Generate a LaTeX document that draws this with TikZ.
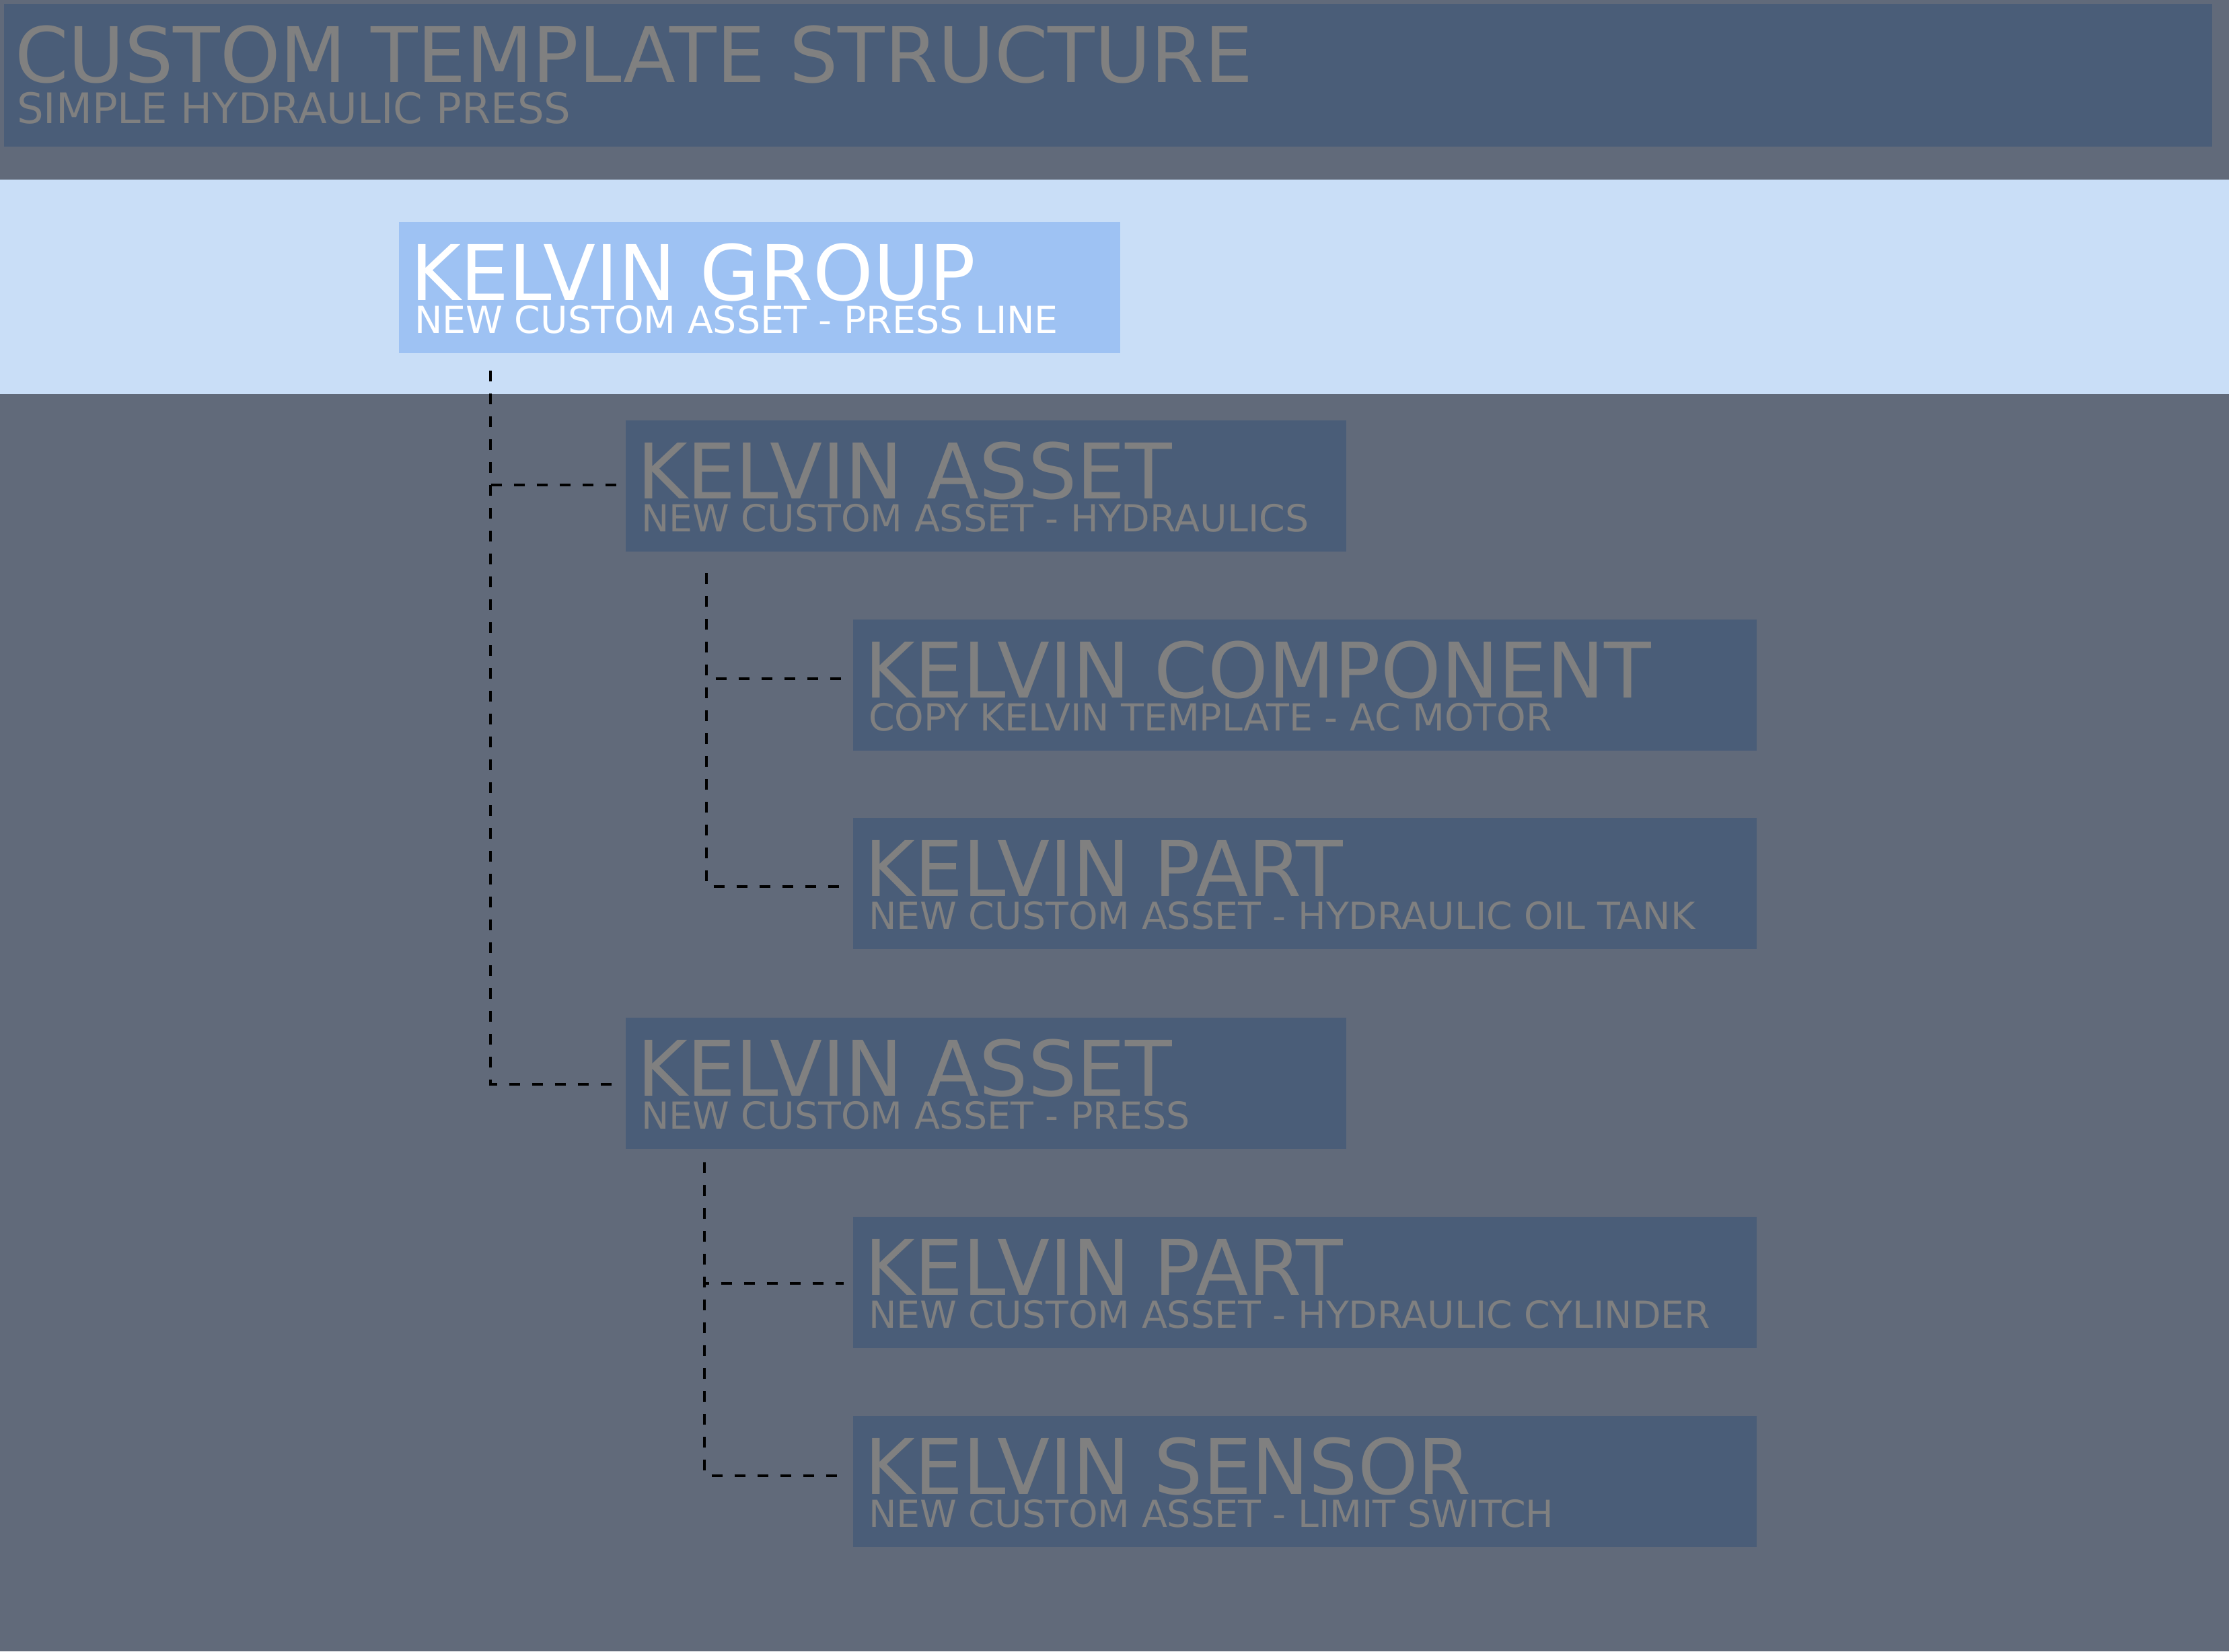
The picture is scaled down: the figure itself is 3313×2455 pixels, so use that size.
\documentclass[tikz,border=0pt]{standalone}
\usepackage{fontspec}
\setmainfont{DejaVu Sans}
\definecolor{bgc}{HTML}{616A7A}
\definecolor{hdrc}{HTML}{4A5D78}
\definecolor{bandc}{HTML}{C9DEF7}
\definecolor{grpc}{HTML}{9EC2F3}
\definecolor{txtc}{HTML}{808080}
\begin{document}
\begin{tikzpicture}[x=1pt,y=-1pt,
  box/.style={rectangle,draw=none,inner sep=0pt,outer sep=0pt,anchor=north west,minimum height=195pt,fill=hdrc},
  ttl/.style={anchor=base west,inner sep=0pt,outer sep=0pt,font=\fontsize{114}{120}\selectfont,text=txtc},
  sub/.style={anchor=base west,inner sep=0pt,outer sep=0pt,font=\fontsize{55.4}{60}\selectfont,text=txtc},
  conn/.style={draw=black,line width=4pt,dash pattern=on 16pt off 18pt}]
\fill[bgc] (0,0) rectangle (3313,2455);
\useasboundingbox (0,0) rectangle (3313,2455);
% header
\node[box,minimum width=3282pt,minimum height=212pt] (hdr) at (6,6) {};
\node[ttl] (hdrt) at (22,122) {CUSTOM TEMPLATE STRUCTURE};
\node[sub,font=\fontsize{62.5}{70}\selectfont] (hdrs) at (25,183) {SIMPLE HYDRAULIC PRESS};
% band
\node[box,fill=bandc,minimum width=3313pt,minimum height=319pt] (band) at (0,267) {};
% group
\node[box,fill=grpc,minimum width=1072pt] (grp) at (593,330) {};
\node[ttl,text=white] (grpt) at (610,446) {KELVIN GROUP};
\node[sub,text=white] (grps) at (616,495) {NEW CUSTOM ASSET - PRESS LINE};
% asset 1
\node[box,minimum width=1071pt] (a1) at (930,625) {};
\node[ttl] (a1t) at (947,741) {KELVIN ASSET};
\node[sub] (a1s) at (953,790) {NEW CUSTOM ASSET - HYDRAULICS};
% component
\node[box,minimum width=1343pt] (c1) at (1268,921) {};
\node[ttl] (c1t) at (1285,1037) {KELVIN COMPONENT};
\node[sub] (c1s) at (1291,1086) {COPY KELVIN TEMPLATE - AC MOTOR};
% part 1
\node[box,minimum width=1343pt] (p1) at (1268,1216) {};
\node[ttl] (p1t) at (1285,1332) {KELVIN PART};
\node[sub] (p1s) at (1291,1381) {NEW CUSTOM ASSET - HYDRAULIC OIL TANK};
% asset 2
\node[box,minimum width=1071pt] (a2) at (930,1513) {};
\node[ttl] (a2t) at (947,1629) {KELVIN ASSET};
\node[sub] (a2s) at (953,1678) {NEW CUSTOM ASSET - PRESS};
% part 2
\node[box,minimum width=1343pt] (p2) at (1268,1809) {};
\node[ttl] (p2t) at (1285,1925) {KELVIN PART};
\node[sub] (p2s) at (1291,1974) {NEW CUSTOM ASSET - HYDRAULIC CYLINDER};
% sensor
\node[box,minimum width=1343pt] (s1) at (1268,2105) {};
\node[ttl] (s1t) at (1285,2221) {KELVIN SENSOR};
\node[sub] (s1s) at (1291,2270) {NEW CUSTOM ASSET - LIMIT SWITCH};
% connectors
\coordinate (g0) at (729,551);
\coordinate (a10) at (1050,852);
\coordinate (a20) at (1047,1728);
\draw[conn] (g0) |- ([xshift=-12pt,yshift=2pt]a1.west);
\draw[conn] (g0) |- ([xshift=-12pt,yshift=-1pt]a2.west);
\draw[conn] (a10) |- ([xshift=-14pt,yshift=10pt]c1.west);
\draw[conn] (a10) |- ([xshift=-14pt,yshift=-4pt]p1.west);
\draw[conn] (a20) |- ([xshift=-14pt,yshift=-1pt]p2.west);
\draw[conn] (a20) |- ([xshift=-14pt,yshift=9pt]s1.west);
\end{tikzpicture}
\end{document}
